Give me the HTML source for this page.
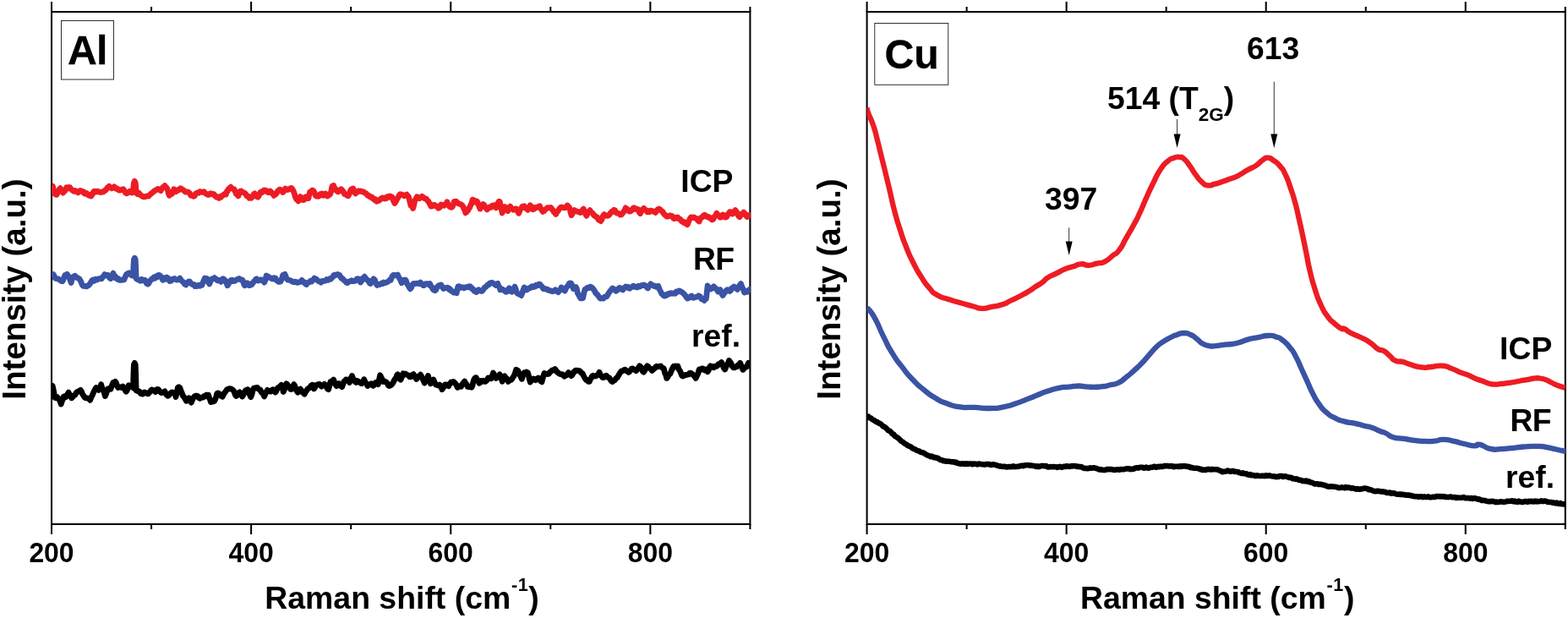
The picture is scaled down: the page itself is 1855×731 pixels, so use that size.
<!DOCTYPE html>
<html lang="en"><head><meta charset="utf-8"><title>Raman spectra</title>
<style>
html,body{margin:0;padding:0;background:#fff;}
body{width:1855px;height:731px;overflow:hidden;}
svg{display:block;}
.t{font-family:"Liberation Sans",Arial,Helvetica,sans-serif;font-weight:700;fill:#000;}
.tick{font-size:31.9px;}
.big{font-size:48.2px;stroke:#000;stroke-width:0.3px;}
.lab{font-size:37.3px;}
.ttl{font-size:37.4px;}
.yttl{font-size:38.55px;}
.sub{font-size:21.5px;}
.sub2{font-size:22.5px;}
</style></head><body>
<svg width="1855" height="731" viewBox="0 0 1855 731">
<defs><clipPath id="cl"><rect x="61.0" y="14.0" width="826.8" height="606.0"/></clipPath><clipPath id="cr"><rect x="1025.6" y="14.0" width="826.6" height="606.0"/></clipPath></defs>
<rect width="1855" height="731" fill="#fff"/>
<rect x="61.0" y="14.0" width="826.4" height="606.0" fill="none" stroke="#000" stroke-width="2.05"/>
<line x1="61.00" y1="14.0" x2="61.00" y2="2.0" stroke="#000" stroke-width="2.05"/>
<line x1="61.00" y1="620.0" x2="61.00" y2="632.0" stroke="#000" stroke-width="2.05"/>
<text transform="translate(61.00,665.3) scale(1,1.03)" text-anchor="middle" class="t tick">200</text>
<line x1="179.06" y1="14.0" x2="179.06" y2="8.0" stroke="#000" stroke-width="2.05"/>
<line x1="179.06" y1="620.0" x2="179.06" y2="626.0" stroke="#000" stroke-width="2.05"/>
<line x1="297.11" y1="14.0" x2="297.11" y2="2.0" stroke="#000" stroke-width="2.05"/>
<line x1="297.11" y1="620.0" x2="297.11" y2="632.0" stroke="#000" stroke-width="2.05"/>
<text transform="translate(297.11,665.3) scale(1,1.03)" text-anchor="middle" class="t tick">400</text>
<line x1="415.17" y1="14.0" x2="415.17" y2="8.0" stroke="#000" stroke-width="2.05"/>
<line x1="415.17" y1="620.0" x2="415.17" y2="626.0" stroke="#000" stroke-width="2.05"/>
<line x1="533.23" y1="14.0" x2="533.23" y2="2.0" stroke="#000" stroke-width="2.05"/>
<line x1="533.23" y1="620.0" x2="533.23" y2="632.0" stroke="#000" stroke-width="2.05"/>
<text transform="translate(533.23,665.3) scale(1,1.03)" text-anchor="middle" class="t tick">600</text>
<line x1="651.29" y1="14.0" x2="651.29" y2="8.0" stroke="#000" stroke-width="2.05"/>
<line x1="651.29" y1="620.0" x2="651.29" y2="626.0" stroke="#000" stroke-width="2.05"/>
<line x1="769.34" y1="14.0" x2="769.34" y2="2.0" stroke="#000" stroke-width="2.05"/>
<line x1="769.34" y1="620.0" x2="769.34" y2="632.0" stroke="#000" stroke-width="2.05"/>
<text transform="translate(769.34,665.3) scale(1,1.03)" text-anchor="middle" class="t tick">800</text>
<line x1="887.40" y1="14.0" x2="887.40" y2="8.0" stroke="#000" stroke-width="2.05"/>
<line x1="887.40" y1="620.0" x2="887.40" y2="626.0" stroke="#000" stroke-width="2.05"/>
<rect x="1025.6" y="14.0" width="826.2" height="606.0" fill="none" stroke="#000" stroke-width="2.05"/>
<line x1="1025.60" y1="14.0" x2="1025.60" y2="2.0" stroke="#000" stroke-width="2.05"/>
<line x1="1025.60" y1="620.0" x2="1025.60" y2="632.0" stroke="#000" stroke-width="2.05"/>
<text transform="translate(1025.60,665.3) scale(1,1.03)" text-anchor="middle" class="t tick">200</text>
<line x1="1143.63" y1="14.0" x2="1143.63" y2="8.0" stroke="#000" stroke-width="2.05"/>
<line x1="1143.63" y1="620.0" x2="1143.63" y2="626.0" stroke="#000" stroke-width="2.05"/>
<line x1="1261.66" y1="14.0" x2="1261.66" y2="2.0" stroke="#000" stroke-width="2.05"/>
<line x1="1261.66" y1="620.0" x2="1261.66" y2="632.0" stroke="#000" stroke-width="2.05"/>
<text transform="translate(1261.66,665.3) scale(1,1.03)" text-anchor="middle" class="t tick">400</text>
<line x1="1379.69" y1="14.0" x2="1379.69" y2="8.0" stroke="#000" stroke-width="2.05"/>
<line x1="1379.69" y1="620.0" x2="1379.69" y2="626.0" stroke="#000" stroke-width="2.05"/>
<line x1="1497.71" y1="14.0" x2="1497.71" y2="2.0" stroke="#000" stroke-width="2.05"/>
<line x1="1497.71" y1="620.0" x2="1497.71" y2="632.0" stroke="#000" stroke-width="2.05"/>
<text transform="translate(1497.71,665.3) scale(1,1.03)" text-anchor="middle" class="t tick">600</text>
<line x1="1615.74" y1="14.0" x2="1615.74" y2="8.0" stroke="#000" stroke-width="2.05"/>
<line x1="1615.74" y1="620.0" x2="1615.74" y2="626.0" stroke="#000" stroke-width="2.05"/>
<line x1="1733.77" y1="14.0" x2="1733.77" y2="2.0" stroke="#000" stroke-width="2.05"/>
<line x1="1733.77" y1="620.0" x2="1733.77" y2="632.0" stroke="#000" stroke-width="2.05"/>
<text transform="translate(1733.77,665.3) scale(1,1.03)" text-anchor="middle" class="t tick">800</text>
<line x1="1851.80" y1="14.0" x2="1851.80" y2="8.0" stroke="#000" stroke-width="2.05"/>
<line x1="1851.80" y1="620.0" x2="1851.80" y2="626.0" stroke="#000" stroke-width="2.05"/>
<polyline points="61.0,456.0 62.1,456.3 63.1,460.7 64.1,466.0 65.1,470.6 66.3,469.6 67.5,469.5 68.6,470.8 69.8,472.4 71.0,474.7 72.2,478.1 73.2,474.8 74.2,472.8 75.2,469.3 76.2,469.6 77.1,468.6 78.1,469.4 79.1,468.3 80.1,465.8 81.1,464.2 82.3,466.5 83.5,467.5 84.7,470.8 85.6,469.9 86.6,468.5 87.6,467.7 88.8,467.3 90.0,464.9 91.2,463.6 92.6,463.3 93.9,462.2 95.3,461.4 96.5,463.2 97.7,466.4 98.9,468.1 100.1,470.0 101.3,470.9 102.4,470.7 103.8,471.0 105.2,471.7 106.6,473.3 108.0,469.8 109.4,467.2 110.8,463.8 111.7,462.2 112.7,460.2 113.7,458.5 114.7,459.6 115.7,460.4 116.7,461.4 117.7,459.2 118.7,457.5 119.7,454.8 120.8,458.9 122.0,461.6 123.2,464.0 124.4,468.5 125.4,466.3 126.4,463.4 127.4,459.9 128.5,460.2 129.7,459.2 130.9,460.2 131.9,457.6 132.9,454.6 133.9,452.3 135.1,452.5 136.3,451.4 137.4,452.7 138.6,456.7 139.8,458.5 141.0,457.7 142.2,457.8 143.4,458.3 144.4,458.8 145.4,457.1 146.3,458.2 147.3,458.9 148.3,462.0 149.3,463.2 150.3,461.6 151.3,459.2 152.3,455.7 153.6,457.5 154.8,457.0 156.1,457.3 157.5,458.8 157.9,444.1 158.4,431.4 159.3,429.4 160.2,431.4 160.7,445.6 161.1,461.8 162.6,462.6 163.8,462.5 165.1,463.2 166.4,465.6 167.7,465.6 168.7,466.1 169.7,465.4 170.7,463.9 171.8,464.3 173.0,464.9 174.2,465.6 175.4,465.8 176.8,464.1 178.2,462.4 179.6,460.9 180.9,461.4 182.3,462.3 183.7,463.6 184.7,461.7 185.7,460.6 186.7,460.3 188.1,461.6 189.4,463.5 190.8,464.7 192.2,464.4 193.6,464.1 195.0,462.9 196.2,465.4 197.3,467.2 198.5,468.3 199.9,467.4 201.3,465.5 202.7,464.2 203.9,463.9 205.1,464.8 206.2,464.8 207.1,466.3 208.0,469.5 209.2,464.3 210.4,458.5 211.6,457.8 212.8,458.6 214.0,462.0 215.1,464.6 216.3,468.0 217.7,469.7 219.1,471.8 220.5,474.2 221.5,472.5 222.5,471.4 223.4,470.8 224.4,471.3 225.4,474.2 226.4,476.1 227.6,473.1 228.8,470.5 230.0,469.0 231.4,468.2 232.7,468.1 234.1,468.7 235.3,470.6 236.5,471.3 237.7,470.6 238.9,469.9 240.1,470.1 241.2,468.7 242.6,469.0 243.9,467.2 245.2,467.1 246.6,467.1 247.6,470.7 248.6,472.8 249.5,475.6 250.9,474.7 252.3,475.1 253.7,474.3 254.7,472.3 255.7,469.4 256.7,465.4 257.8,465.0 259.0,465.5 260.4,466.8 261.8,468.5 263.2,469.2 264.6,466.2 266.0,464.2 267.3,462.5 268.5,460.9 269.7,460.3 270.9,459.7 272.2,459.9 273.5,460.0 274.7,460.8 275.9,461.7 277.1,463.3 278.3,467.1 279.5,468.5 280.9,467.5 282.3,464.8 283.6,463.8 284.6,466.0 285.6,466.4 286.6,469.0 287.8,467.2 289.0,464.7 290.2,462.2 291.2,461.4 292.1,461.1 293.1,460.7 294.3,463.1 295.5,467.1 296.7,469.7 297.9,466.8 299.1,461.5 300.2,459.0 301.6,458.8 303.0,459.1 304.4,458.4 305.6,460.0 306.8,460.6 308.0,461.1 309.1,463.9 310.3,464.5 311.5,466.5 312.7,468.9 313.9,466.2 315.1,463.4 316.3,461.4 317.4,462.0 318.6,462.3 319.8,463.1 320.8,463.1 321.8,461.4 322.8,460.7 323.8,461.3 324.8,462.2 325.8,464.0 326.9,462.6 328.1,459.4 329.3,458.3 330.5,457.9 331.7,456.7 332.9,455.4 334.1,458.2 335.2,463.5 336.4,460.9 337.6,456.2 338.8,453.7 339.8,454.6 340.8,456.3 341.8,457.4 342.8,458.6 343.7,460.4 344.7,460.5 345.7,458.1 346.7,456.3 347.7,454.7 348.9,456.6 350.1,460.8 351.3,462.9 352.4,464.2 353.4,463.2 354.4,461.4 355.4,460.2 356.6,461.6 357.8,463.7 359.0,465.0 360.2,466.2 361.3,463.9 362.5,462.4 363.7,460.3 364.9,459.3 366.1,458.8 367.3,457.2 368.5,455.7 369.6,455.3 370.5,457.5 371.4,459.9 372.4,458.8 373.4,456.4 374.4,455.4 375.6,455.1 376.8,454.5 377.9,454.4 379.1,455.7 380.3,457.1 381.5,455.9 382.7,455.7 383.9,454.4 385.1,455.6 386.3,457.8 387.4,459.8 388.6,460.6 389.8,456.1 391.0,451.4 392.2,451.5 393.4,450.8 394.6,449.0 395.7,452.5 396.9,454.9 398.1,456.6 399.1,455.6 400.1,453.7 401.1,453.6 402.3,455.0 403.5,456.8 404.6,457.7 405.8,454.5 407.0,451.2 408.2,450.5 409.4,448.9 410.6,449.2 411.6,449.1 412.5,450.4 413.5,452.4 414.5,448.8 415.5,446.6 416.5,444.6 417.7,448.1 418.9,449.1 420.1,451.6 421.4,452.4 422.8,450.6 424.2,451.3 425.4,452.1 426.6,453.2 427.8,453.8 428.8,452.1 429.7,451.1 430.7,448.7 432.1,452.1 433.5,453.9 434.9,456.5 435.9,454.7 436.9,455.2 437.9,454.3 439.0,453.8 440.2,455.1 441.4,456.3 442.4,455.7 443.4,453.4 444.4,452.4 445.4,452.8 446.4,454.1 447.3,454.7 448.5,448.9 449.7,443.7 450.9,446.2 452.1,448.6 453.3,451.4 454.5,450.7 455.6,451.5 456.8,452.0 458.0,453.1 459.2,455.6 460.4,456.5 461.8,456.1 463.2,455.0 464.5,453.5 465.5,451.6 466.5,449.7 467.5,448.1 468.5,447.2 469.5,444.1 470.5,442.8 471.7,445.7 472.8,448.0 474.0,449.2 475.0,446.7 476.0,444.8 477.0,441.7 478.4,442.0 479.8,442.2 481.2,443.3 482.3,443.6 483.5,444.3 484.7,445.8 485.8,445.8 486.9,443.7 488.0,443.8 489.2,442.6 490.3,445.4 491.5,446.8 492.7,448.4 493.9,446.7 495.1,445.0 496.3,444.6 497.5,443.2 498.6,445.0 499.8,447.8 501.0,450.1 502.2,453.1 503.6,449.3 505.0,448.2 506.4,444.5 507.3,447.6 508.3,450.4 509.3,453.7 510.5,452.6 511.7,450.7 512.9,449.2 513.9,451.6 514.9,453.9 515.8,455.1 517.2,455.6 518.6,456.1 520.0,455.1 521.0,456.4 522.0,458.2 523.0,460.7 524.1,458.9 525.3,457.5 526.5,454.9 527.9,454.8 529.3,455.5 530.7,456.7 531.7,454.5 532.6,453.8 533.6,452.0 535.0,452.6 536.4,451.5 537.8,452.6 539.0,453.8 540.2,456.0 541.3,458.4 542.7,456.9 544.1,456.5 545.5,457.3 546.9,454.5 548.3,452.7 549.7,451.1 550.8,453.5 552.0,454.4 553.2,457.4 554.4,457.6 555.6,457.8 556.8,457.4 558.0,458.2 558.9,455.9 559.9,451.6 560.9,448.7 562.1,447.0 563.3,446.6 564.5,449.2 565.7,450.0 566.9,453.2 568.0,452.8 569.2,450.4 570.4,450.9 571.6,450.3 572.8,451.3 574.0,451.4 575.2,450.8 576.3,449.3 577.5,447.0 578.7,447.7 579.9,446.8 581.1,447.7 582.3,445.1 583.5,441.1 584.6,443.2 585.8,444.5 587.0,447.4 588.4,445.6 589.8,444.7 591.2,442.9 592.2,445.6 593.1,447.6 594.1,451.2 595.1,449.1 596.1,446.0 597.1,444.9 598.5,447.0 599.9,448.1 601.3,451.4 602.4,449.7 603.6,449.5 604.8,449.4 606.0,447.6 607.2,445.8 608.4,444.0 609.6,440.5 610.7,437.2 611.7,437.7 612.7,438.5 613.7,440.5 614.9,443.4 616.1,445.6 617.3,448.3 618.3,445.4 619.2,442.8 620.2,440.8 621.6,441.7 623.0,440.0 624.4,440.9 625.4,444.2 626.4,449.0 627.3,452.0 628.5,450.5 629.7,449.2 630.9,448.1 631.9,449.0 632.9,448.5 633.9,449.6 634.9,447.9 635.9,447.6 636.8,447.0 638.2,448.1 639.6,450.8 641.0,451.8 642.0,447.6 643.0,444.3 644.0,441.4 645.3,442.2 646.6,442.4 648.0,442.5 649.3,442.2 650.5,440.2 651.7,439.5 652.9,438.2 654.0,438.0 655.2,437.5 656.4,436.5 657.6,437.7 658.8,440.1 660.0,440.5 661.4,441.9 662.7,442.5 664.1,442.6 665.3,442.9 666.5,444.2 667.7,445.2 668.9,444.3 670.1,444.0 671.2,442.3 672.4,440.7 673.6,442.8 674.8,443.3 676.0,444.6 677.2,443.3 678.4,440.2 679.5,440.1 680.7,438.1 682.1,438.1 683.5,438.4 684.9,438.5 686.3,439.1 687.6,441.0 689.0,441.6 690.4,444.5 691.8,447.1 693.2,449.2 694.6,450.0 696.0,451.3 697.3,451.4 698.3,448.3 699.3,447.6 700.3,445.2 701.5,444.3 702.6,444.9 703.8,444.8 704.9,445.0 706.3,443.8 707.7,442.9 709.0,440.3 710.4,443.4 711.8,445.2 713.1,446.6 714.5,446.6 715.9,445.0 717.2,444.2 718.5,445.4 719.7,446.7 720.9,447.1 722.2,449.3 723.4,450.8 724.6,451.5 725.8,450.2 726.9,450.0 728.1,448.6 729.2,447.1 730.4,446.6 731.6,444.1 732.8,442.3 734.1,440.2 735.3,438.8 736.7,438.7 738.0,437.8 739.4,437.1 740.8,438.6 742.1,439.0 743.5,440.4 744.7,439.7 746.0,437.8 747.2,436.1 748.4,435.9 749.8,437.1 751.2,437.4 752.5,438.7 753.9,436.9 755.3,435.2 756.6,432.8 757.9,433.9 759.1,436.2 760.3,439.2 761.6,440.1 762.9,437.9 764.3,434.9 765.7,432.8 766.8,433.6 768.0,435.2 769.1,435.8 770.3,436.7 771.4,438.4 772.8,436.8 774.2,436.1 775.5,434.3 776.8,433.3 778.0,433.8 779.2,433.3 780.4,433.3 781.7,433.0 782.9,434.5 784.1,435.3 785.4,435.9 786.5,441.1 787.6,443.4 788.7,447.4 790.0,445.9 791.4,443.3 792.8,442.2 794.1,439.0 795.5,435.9 796.9,433.4 798.1,434.1 799.3,433.0 800.6,433.8 801.8,433.0 803.0,436.8 804.3,438.4 805.5,441.2 806.7,444.3 807.9,445.0 809.2,444.4 810.4,443.6 811.6,443.3 813.0,443.3 814.4,443.0 815.7,441.4 817.1,441.1 818.5,442.0 819.9,443.3 820.9,444.4 822.0,445.5 823.1,447.4 824.5,444.6 825.9,441.5 827.2,436.9 828.6,437.6 830.0,436.0 831.3,435.8 832.5,437.2 833.6,438.0 834.8,437.1 835.9,438.4 837.1,439.7 838.2,438.3 839.3,434.4 840.4,432.9 841.7,434.3 843.1,433.4 844.5,434.6 845.8,433.5 847.2,433.4 848.6,432.7 849.8,430.6 851.0,430.7 852.3,429.6 853.5,428.5 854.9,431.3 856.2,435.0 857.6,437.0 858.8,434.3 860.1,431.3 861.3,429.7 862.5,426.5 863.8,428.1 865.0,429.9 866.2,433.1 867.5,434.8 868.8,434.8 870.2,433.9 871.6,433.9 872.9,431.8 874.3,431.6 875.7,429.3 876.8,432.2 877.9,435.2 879.0,437.3 880.3,435.3 881.7,434.4 883.1,434.2 884.3,431.7 885.5,429.3 886.4,431.3 887.3,432.2 888.4,432.6" fill="none" stroke="#000" stroke-width="6.8" stroke-linejoin="round" stroke-linecap="butt" clip-path="url(#cl)"/>
<polyline points="61.0,324.4 62.1,324.4 63.1,324.6 64.1,326.2 65.1,328.9 66.5,329.5 67.9,329.8 69.2,329.8 70.4,331.0 71.6,331.8 72.8,332.5 74.0,332.8 75.0,330.4 76.0,327.7 76.9,325.5 78.1,325.6 79.3,324.4 80.5,326.0 81.7,327.8 82.9,330.9 84.1,334.5 85.2,330.4 86.4,327.8 87.6,326.7 88.8,326.3 89.8,328.0 90.8,328.1 91.8,329.0 92.8,329.2 93.8,329.7 94.7,331.3 95.9,333.3 97.1,336.6 98.3,338.3 99.5,338.3 100.7,338.3 102.1,338.9 103.4,338.3 104.8,337.5 106.2,336.1 107.6,333.8 109.0,331.6 110.0,331.1 111.0,332.4 111.9,332.0 113.1,330.4 114.3,331.1 115.5,330.6 116.7,329.7 117.9,329.6 119.1,329.4 120.2,329.7 121.4,327.7 122.6,326.9 123.8,324.6 125.0,325.7 126.2,326.0 127.4,325.3 128.5,326.8 129.7,328.8 130.9,329.5 131.9,327.3 132.9,324.8 133.9,323.2 134.9,325.5 135.9,326.2 136.9,329.1 138.0,328.6 139.2,330.4 140.4,329.8 141.4,331.3 142.4,331.3 143.4,331.3 144.6,331.1 145.7,331.1 146.9,330.7 147.9,328.1 148.9,325.7 149.9,324.1 151.1,324.2 152.3,322.8 153.6,322.8 154.9,325.2 156.2,326.0 157.5,326.2 157.9,315.7 158.4,307.2 159.3,305.2 160.2,307.2 160.7,317.4 161.1,329.5 162.7,330.6 164.0,330.8 165.3,332.0 166.5,332.3 167.7,330.4 168.9,331.1 170.1,332.0 171.3,331.2 172.4,332.5 173.6,335.4 174.8,336.1 176.0,335.1 177.2,332.2 178.4,331.5 179.6,329.9 180.7,329.8 181.9,328.0 183.1,329.1 184.3,327.0 185.5,328.0 186.5,325.9 187.5,325.5 188.5,325.4 189.8,326.4 191.2,328.5 192.6,331.3 193.8,330.2 195.0,328.9 196.2,330.1 197.3,328.1 198.5,328.8 199.7,330.7 200.9,332.5 202.3,332.2 203.7,330.2 205.1,330.1 206.4,329.5 207.8,330.6 209.2,331.1 210.4,330.7 211.6,330.3 212.8,329.1 214.0,331.1 215.1,332.3 216.3,333.3 217.5,334.1 218.7,336.2 219.9,337.0 221.1,334.8 222.3,334.0 223.4,332.9 224.6,333.1 225.8,335.2 227.0,336.2 228.2,336.8 229.4,336.4 230.6,338.5 231.7,337.5 232.9,338.5 234.1,338.1 235.3,337.2 236.5,338.2 237.7,337.2 238.9,337.4 240.1,334.1 241.2,331.6 242.4,329.0 243.6,329.7 244.8,329.5 245.8,332.4 246.8,334.3 247.8,335.9 248.8,333.1 249.7,331.8 250.7,329.9 251.7,329.7 252.7,329.2 253.7,328.6 254.7,329.8 255.7,329.9 256.7,331.4 257.8,332.0 259.0,331.4 260.2,332.0 261.4,333.3 262.6,330.7 263.8,329.7 264.8,330.1 265.8,330.9 266.7,332.4 267.9,334.8 269.1,337.7 270.1,336.3 271.1,334.4 272.1,332.5 273.0,331.6 274.3,331.1 275.7,332.7 277.1,332.5 278.3,332.0 279.5,330.9 280.7,330.5 281.9,330.1 283.0,329.4 284.2,330.5 285.4,331.0 286.6,331.0 287.6,332.7 288.6,336.3 289.6,337.7 290.6,336.8 291.6,336.5 292.5,334.7 293.5,335.2 294.5,337.7 295.5,337.7 296.7,336.0 297.9,336.5 299.1,334.8 300.2,333.1 301.4,332.5 302.6,330.2 303.6,329.8 304.6,331.3 305.6,332.0 307.0,331.7 308.4,330.7 309.7,331.0 310.7,331.2 311.7,332.7 312.7,334.1 313.9,331.2 315.1,326.0 316.3,327.6 317.4,327.1 318.6,328.4 319.8,328.6 321.0,329.2 322.2,330.0 323.2,329.3 324.2,328.6 325.2,328.8 326.1,329.2 327.1,331.6 328.1,331.9 329.3,333.3 330.5,333.4 331.7,333.2 332.7,331.2 333.7,328.6 334.7,325.4 335.8,324.8 337.0,324.3 338.0,326.6 339.0,329.4 340.0,330.7 341.4,331.2 342.8,331.3 344.1,332.1 345.3,332.7 346.5,333.4 347.7,333.7 348.9,333.2 350.1,333.3 351.3,334.2 352.4,334.4 353.6,333.7 354.8,333.4 356.0,333.0 357.2,331.4 358.6,333.5 360.0,333.6 361.3,335.8 362.5,336.5 363.7,334.3 364.9,334.3 366.1,333.6 367.3,332.3 368.5,333.1 369.6,331.9 370.8,330.7 372.0,329.1 373.2,329.7 374.4,330.3 375.6,331.7 377.0,332.7 378.3,333.1 379.7,334.2 381.1,332.5 382.5,332.6 383.9,332.1 385.1,332.0 386.3,330.5 387.4,331.2 388.6,331.3 390.0,329.7 391.4,330.1 392.8,328.4 393.8,327.6 394.8,325.7 395.7,325.1 396.9,325.4 398.1,325.1 399.3,324.4 400.5,325.2 401.7,325.4 402.9,327.7 404.0,329.4 405.2,329.5 406.4,330.9 407.6,332.0 408.8,332.9 410.0,334.4 411.2,334.6 412.3,333.6 413.5,332.6 414.7,332.6 415.9,331.8 417.1,332.7 418.3,332.5 419.5,332.4 420.9,332.0 422.2,329.9 423.6,329.7 424.6,330.7 425.6,332.5 426.6,333.9 427.8,332.1 429.0,329.2 430.1,328.5 431.3,327.2 432.5,329.2 433.7,330.3 434.9,331.8 436.1,331.8 437.3,334.9 438.4,335.5 439.6,333.6 440.8,332.2 442.0,329.8 443.4,331.2 444.8,335.2 446.2,337.4 447.5,336.1 448.8,336.7 450.2,335.9 451.5,334.9 452.7,335.6 453.9,334.1 455.1,334.8 456.2,334.2 457.4,333.9 458.6,333.5 459.8,332.5 461.0,331.1 462.2,331.4 463.4,328.1 464.5,326.1 465.7,325.1 466.9,325.8 468.1,325.4 469.3,325.6 470.5,325.0 471.7,327.8 472.8,329.5 474.0,331.8 475.2,334.7 476.6,332.4 478.0,331.2 479.4,331.0 480.4,332.0 481.3,335.1 482.3,336.8 483.3,338.0 484.3,340.2 485.3,341.8 486.6,340.3 487.9,336.9 489.2,335.3 490.3,335.4 491.5,335.5 492.7,335.2 493.9,335.1 495.1,335.3 496.3,335.6 497.5,334.1 498.4,335.4 499.4,336.2 500.4,337.5 501.6,337.6 502.8,335.8 504.0,335.6 505.2,335.6 506.4,335.9 507.5,336.8 508.7,335.7 509.7,338.5 510.7,339.1 511.7,341.4 512.7,342.7 513.7,343.3 514.7,343.7 515.8,342.7 517.0,339.5 518.2,338.7 519.4,337.6 520.6,337.3 521.8,336.9 522.8,338.8 523.8,340.2 524.7,341.4 526.1,340.7 527.5,340.7 528.9,340.1 530.1,340.5 531.3,342.5 532.4,341.8 533.8,344.2 535.2,344.6 536.6,346.0 537.8,346.0 539.0,345.7 540.2,346.7 541.0,342.2 541.9,338.9 543.1,338.7 544.3,340.1 545.5,340.3 546.7,339.6 547.9,340.1 549.1,340.8 550.2,339.8 551.4,339.9 552.6,339.4 553.8,339.0 555.0,339.7 556.2,338.8 557.4,339.8 558.5,341.7 559.7,342.0 560.9,344.0 562.1,344.7 563.3,345.5 564.3,345.1 565.3,343.1 566.3,342.7 567.4,343.8 568.6,343.6 569.8,344.5 571.0,343.7 572.2,341.8 573.4,340.0 574.6,339.5 575.7,338.5 576.9,336.9 578.1,336.9 579.3,334.9 580.5,334.9 581.7,334.2 583.1,334.9 584.4,336.0 585.8,336.9 586.8,337.5 587.8,335.7 588.8,335.3 589.8,338.4 590.8,339.4 591.8,342.8 593.1,342.0 594.5,342.2 595.9,343.5 597.1,343.7 598.3,345.3 599.5,345.2 600.5,344.0 601.4,342.1 602.4,340.9 603.4,341.8 604.4,344.5 605.4,345.2 606.6,342.9 607.8,341.6 609.0,339.1 610.1,341.9 611.3,345.9 612.5,347.5 613.9,347.8 615.3,348.6 616.7,349.6 617.9,346.5 619.0,342.9 620.2,340.0 621.2,340.6 622.2,341.4 623.2,342.9 624.6,341.7 626.0,340.9 627.3,340.6 628.5,339.0 629.7,338.7 630.9,339.7 632.1,338.5 633.1,338.9 634.1,337.3 635.1,337.9 636.2,337.9 637.4,336.2 638.6,336.2 640.0,337.8 641.4,339.2 642.8,341.6 644.0,341.2 645.1,341.6 646.3,342.2 647.5,342.1 648.7,343.4 649.9,343.4 651.1,343.9 652.3,344.2 653.4,344.8 654.6,344.5 655.8,343.8 657.0,342.7 658.2,343.7 659.4,345.0 660.6,345.6 661.7,343.4 662.9,343.2 664.1,340.0 665.5,342.3 666.9,342.9 668.3,344.0 669.7,340.6 671.0,338.9 672.4,337.3 673.4,335.4 674.4,334.9 675.4,334.9 676.4,336.5 677.4,338.6 678.4,341.6 679.3,339.9 680.3,341.0 681.3,339.6 682.3,341.6 683.3,346.4 684.3,348.4 685.5,350.5 686.7,352.6 687.6,352.0 688.6,352.9 689.6,352.6 690.8,346.9 692.0,342.3 693.2,341.9 694.4,340.6 695.6,340.1 696.9,340.6 698.3,339.1 699.7,339.8 700.9,340.6 702.1,342.1 703.3,344.0 704.1,345.3 704.9,346.9 706.1,347.8 707.2,349.2 708.4,350.8 709.5,352.3 710.7,353.1 711.8,352.9 713.0,352.3 714.1,352.9 715.3,351.2 716.4,351.3 717.8,350.6 719.2,348.4 720.5,346.1 721.9,344.4 723.3,342.4 724.6,341.0 726.0,341.8 727.4,342.7 728.7,344.2 730.1,343.4 731.5,341.7 732.8,340.4 734.2,340.7 735.6,342.3 736.9,342.9 738.0,340.6 739.1,340.4 740.2,339.0 741.5,339.8 742.7,339.2 743.9,341.0 745.1,341.3 746.5,339.8 747.9,339.4 749.3,338.2 750.5,338.7 751.7,339.4 752.9,339.8 754.2,339.8 755.4,338.3 756.6,339.0 757.9,338.5 759.1,337.5 760.5,337.7 761.8,336.9 763.2,337.8 764.3,338.2 765.4,340.2 766.5,340.9 767.6,338.3 768.7,338.0 769.8,335.8 771.1,337.2 772.5,337.5 773.9,338.5 775.1,338.1 776.3,339.3 777.6,339.0 778.8,338.4 780.2,342.4 781.5,344.7 782.9,347.5 784.0,348.3 785.1,349.7 786.2,350.1 787.3,349.9 788.5,348.2 789.6,348.8 790.8,347.4 791.9,347.7 793.1,346.7 794.2,346.9 795.4,347.3 796.5,347.0 797.7,347.2 798.8,347.3 800.0,345.1 801.1,345.5 802.3,344.6 803.4,343.8 804.7,344.3 805.9,345.2 807.1,345.8 808.4,347.0 809.6,348.1 810.8,349.5 812.1,351.6 813.3,353.0 814.5,352.5 815.7,352.0 817.0,350.7 818.2,350.0 819.3,351.2 820.4,352.3 821.5,351.9 822.7,351.7 824.0,351.2 825.2,351.0 826.4,349.8 827.6,350.3 828.7,351.3 829.9,353.7 831.0,353.7 832.2,354.8 833.3,355.4 834.4,353.5 835.4,353.3 836.3,345.5 837.1,338.0 838.5,339.9 839.8,340.4 841.2,341.8 842.3,340.8 843.4,340.8 844.5,338.7 845.7,340.7 846.9,341.2 848.2,342.7 849.4,344.9 850.6,343.6 851.9,342.6 853.0,345.3 854.1,348.1 855.1,349.5 856.5,347.2 857.9,345.7 859.3,343.4 860.6,342.6 862.0,343.3 863.4,344.5 864.6,343.5 865.8,340.7 867.1,340.3 868.3,339.0 869.7,340.0 871.0,341.4 872.4,342.3 873.8,339.6 875.1,337.5 876.5,335.5 877.9,339.6 879.2,341.9 880.6,346.0 881.7,345.4 882.8,345.1 883.9,345.4 885.0,343.8 886.2,343.1 887.3,342.1 888.4,342.0" fill="none" stroke="#3a53a4" stroke-width="6.8" stroke-linejoin="round" stroke-linecap="butt" clip-path="url(#cl)"/>
<polyline points="61.0,219.6 62.4,220.3 63.7,225.4 65.1,229.6 66.0,230.1 66.9,230.4 68.0,228.6 69.2,226.7 70.4,223.6 71.3,222.7 72.2,223.7 73.4,225.5 74.6,228.1 75.8,225.9 76.9,225.8 77.8,224.3 78.7,221.7 79.7,222.8 80.7,222.8 81.7,221.5 82.7,221.7 83.7,223.4 84.7,224.4 85.8,225.0 87.0,226.2 88.0,226.3 89.0,225.5 90.0,226.2 91.2,227.0 92.4,227.8 93.6,226.2 94.7,225.5 95.7,225.6 96.7,226.5 97.7,226.8 98.7,226.7 99.7,229.0 100.7,229.0 101.7,229.4 102.6,228.7 103.6,230.1 105.0,231.2 106.4,230.5 107.8,232.0 108.8,230.7 109.8,228.7 110.8,226.7 111.9,226.1 113.1,227.0 114.3,226.5 115.5,226.1 116.7,226.9 117.9,227.2 119.1,227.6 120.2,227.0 121.4,227.2 122.6,226.6 123.8,225.3 125.0,225.2 126.2,223.3 127.2,221.7 128.2,221.4 129.1,220.4 130.1,221.4 131.1,221.7 132.1,222.8 133.1,222.2 134.1,222.1 135.1,220.9 136.1,221.7 137.0,223.0 138.0,223.6 139.2,223.4 140.4,224.9 141.6,225.2 143.0,224.7 144.4,224.0 145.7,223.7 147.1,225.5 148.5,228.0 149.9,228.8 151.1,227.9 152.3,227.8 153.5,226.2 154.8,226.8 156.1,228.0 157.5,227.3 157.9,220.8 158.4,216.3 159.3,214.3 160.2,216.3 160.7,221.4 161.1,228.4 162.7,229.6 164.0,228.0 165.3,229.6 166.5,230.8 167.7,231.8 168.9,232.3 170.1,232.9 171.3,232.5 172.4,232.5 173.6,232.1 174.8,231.6 176.0,232.0 177.2,230.5 178.4,229.2 179.6,228.6 180.7,227.6 181.9,226.4 183.1,225.6 184.3,225.0 185.5,224.3 186.7,223.4 187.9,224.0 189.0,224.1 190.2,225.6 191.4,223.0 192.6,221.5 193.8,221.1 195.0,219.7 196.2,221.3 197.3,222.3 198.3,224.6 199.3,228.8 200.3,231.3 201.3,229.9 202.3,229.3 203.3,229.4 204.5,227.4 205.7,223.7 206.8,224.5 208.0,226.7 209.2,225.9 210.4,225.4 211.4,224.2 212.4,224.1 213.4,222.8 214.4,223.1 215.3,224.4 216.3,224.4 217.5,225.1 218.7,226.5 219.9,227.2 221.1,227.1 222.3,226.9 223.4,227.7 224.6,228.8 225.8,231.3 226.8,231.3 227.8,231.1 228.8,232.2 230.2,231.7 231.6,229.0 232.9,228.3 234.1,227.6 235.3,228.2 236.5,226.6 237.7,227.0 238.9,227.3 240.1,227.2 241.2,226.7 242.4,227.9 243.6,229.1 244.8,229.6 246.0,230.4 247.2,230.3 248.4,229.1 249.5,228.8 250.7,229.0 251.9,230.2 253.1,229.7 254.3,231.1 255.5,232.9 256.7,233.4 257.8,233.0 259.0,234.4 260.2,232.8 261.4,233.2 262.6,231.8 263.8,230.9 265.0,230.1 266.2,229.1 267.3,230.0 268.3,226.5 269.3,225.9 270.3,223.6 271.6,222.5 273.0,221.2 273.3,221.6 274.6,223.0 275.8,223.4 277.1,223.8 278.3,226.5 279.5,229.5 280.7,230.1 281.9,231.8 283.0,228.9 284.2,226.1 285.4,226.0 286.6,227.4 287.8,227.3 288.8,228.1 289.8,228.4 290.8,229.8 292.1,231.9 293.5,231.9 294.9,234.3 296.1,233.6 297.3,234.2 298.5,232.9 299.5,231.0 300.4,229.5 301.4,228.9 302.6,230.9 303.8,232.7 305.0,233.2 306.0,232.1 307.0,229.8 308.0,227.5 308.9,228.2 309.9,226.5 310.9,227.1 311.9,225.4 312.9,224.9 313.9,225.4 315.1,225.3 316.3,227.2 317.4,227.7 318.6,227.7 319.8,226.2 321.2,227.6 322.6,229.0 324.0,231.4 325.2,230.1 326.3,229.7 327.5,228.1 328.5,225.9 329.5,225.7 330.5,224.1 331.9,224.4 333.3,225.4 334.7,227.5 335.6,226.4 336.6,225.1 337.6,223.0 338.8,223.8 340.0,224.5 341.2,224.2 342.4,224.0 343.5,222.8 344.7,222.4 345.9,223.7 347.1,225.9 348.3,229.1 349.5,233.2 350.7,235.8 351.9,236.3 353.0,238.0 354.2,236.0 355.4,232.6 356.4,234.7 357.4,234.9 358.4,236.7 359.6,236.5 360.7,233.4 361.9,232.7 362.9,234.6 363.9,234.2 364.9,234.6 365.8,230.4 366.7,226.9 368.1,227.0 369.4,225.1 370.8,225.7 372.0,227.7 373.2,231.1 374.4,232.1 375.6,231.5 376.8,232.3 377.8,231.5 378.7,229.7 379.7,229.6 380.7,229.0 381.7,229.4 382.7,231.3 383.9,229.5 385.1,229.0 386.3,230.5 387.4,232.0 388.6,230.1 389.8,230.5 391.0,228.8 391.9,225.7 392.8,220.8 393.7,219.7 394.6,219.4 395.5,222.0 396.5,222.8 397.5,224.7 398.7,226.1 399.9,226.9 401.1,226.1 402.3,224.6 403.5,223.7 404.8,224.8 406.2,226.9 407.6,229.6 409.0,229.8 410.4,231.1 411.8,231.8 412.9,230.1 414.1,226.6 415.3,224.3 416.5,223.4 417.7,222.9 418.7,225.7 419.7,227.8 420.7,228.8 421.8,227.5 423.0,226.9 424.2,225.8 425.4,226.3 426.6,226.0 427.8,226.5 429.0,226.8 430.1,226.9 431.3,228.2 432.5,228.3 433.7,229.3 434.9,231.3 436.1,231.2 437.3,232.6 438.4,232.4 439.6,234.1 440.8,233.8 442.0,235.5 443.2,236.7 444.4,235.9 445.6,238.3 446.7,237.7 447.9,237.5 449.1,236.8 450.3,235.1 451.5,234.4 452.7,233.9 453.9,234.7 455.1,235.1 456.2,233.8 457.4,234.5 458.6,232.5 459.8,233.2 461.2,231.9 462.6,232.5 464.0,233.3 464.9,235.9 465.9,238.5 466.9,240.4 467.9,239.0 468.9,237.4 469.9,235.2 471.1,233.4 472.3,230.8 473.4,229.7 474.6,230.4 475.8,230.2 477.0,230.9 478.4,231.8 479.8,231.1 481.2,230.1 482.3,231.4 483.5,233.0 484.7,237.8 485.9,243.0 486.2,240.9 487.4,243.5 488.6,246.4 489.7,242.3 490.9,237.0 492.1,235.3 493.3,232.7 494.3,233.5 495.3,233.6 496.3,234.6 497.3,233.6 498.2,233.9 499.2,232.2 500.4,233.0 501.6,234.4 502.8,234.8 504.2,235.1 505.6,237.2 506.9,238.2 507.9,240.4 508.9,241.9 509.9,244.1 511.3,243.9 512.7,242.4 514.1,242.4 515.2,243.4 516.4,243.8 517.6,245.1 518.8,246.3 519.8,245.8 520.8,244.4 521.8,242.1 523.0,243.0 524.1,242.3 525.3,243.2 526.5,242.2 527.7,241.4 528.9,238.8 530.1,241.6 531.3,243.8 532.4,244.8 533.4,245.2 534.4,245.3 535.4,244.2 536.3,241.8 537.2,238.6 538.4,238.3 539.6,238.1 540.8,239.5 541.9,240.6 543.1,240.8 544.3,241.3 545.5,242.0 546.7,242.8 547.9,244.3 548.9,247.2 549.8,248.2 550.8,251.7 551.8,251.1 552.8,249.4 553.8,248.9 554.8,246.2 555.8,245.4 556.8,242.5 558.0,240.3 559.1,236.1 560.1,236.9 561.1,237.0 562.1,238.8 563.1,239.5 564.1,238.1 565.1,239.4 566.1,242.4 567.0,244.6 568.0,247.1 569.2,244.9 570.4,243.9 571.6,241.5 572.8,242.6 574.0,245.2 575.2,246.2 576.3,247.8 577.5,246.7 578.7,245.2 579.9,245.3 581.1,245.3 582.3,243.1 583.5,243.5 584.6,242.7 585.8,243.7 587.0,245.8 588.2,242.2 589.4,239.7 590.3,238.2 591.2,238.6 592.2,243.1 593.1,246.6 594.1,252.0 595.1,249.7 596.1,247.8 597.1,244.4 598.3,246.0 599.5,248.2 600.7,249.6 601.6,248.0 602.6,245.4 603.6,244.1 604.8,245.8 606.0,247.1 607.2,248.2 608.4,247.4 609.6,246.9 610.7,246.8 611.7,249.0 612.7,250.5 613.7,252.3 614.7,249.8 615.7,247.3 616.7,246.2 617.9,244.4 619.0,245.0 620.2,243.9 621.6,246.1 623.0,247.0 624.4,248.3 625.4,245.4 626.4,244.4 627.3,242.7 628.3,244.0 629.3,246.1 630.3,247.7 631.7,247.3 633.1,245.5 634.5,245.8 635.9,245.1 637.2,244.2 638.6,243.8 639.8,246.7 641.0,248.6 642.2,250.4 643.6,249.6 644.9,247.9 646.3,246.8 647.7,245.6 649.0,245.7 650.3,245.8 651.7,245.5 652.9,247.4 654.0,248.3 655.2,250.8 656.4,251.4 657.6,253.4 659.0,250.7 660.4,249.2 661.7,247.0 662.9,245.7 664.1,244.9 665.3,245.3 666.3,245.6 667.3,245.7 668.3,245.9 669.3,245.1 670.3,244.1 671.2,243.0 672.4,244.8 673.6,245.2 674.8,250.1 676.0,254.6 677.2,252.7 678.4,250.3 679.5,248.6 680.7,249.2 681.9,249.8 683.1,250.3 684.3,250.4 685.5,251.2 686.7,251.5 687.8,250.7 689.0,248.9 690.2,247.1 691.4,250.1 692.6,253.0 693.8,255.2 695.2,252.6 696.5,250.2 697.9,248.7 699.1,250.7 700.3,251.6 701.5,252.6 702.6,254.8 703.8,255.2 704.9,256.3 706.1,256.5 707.2,258.5 708.4,260.1 709.5,260.5 710.7,261.6 712.0,259.4 713.4,255.4 714.8,253.6 716.1,255.1 717.5,255.2 718.9,255.4 720.1,254.7 721.3,253.4 722.6,251.4 723.8,250.2 725.0,250.4 726.3,248.3 727.6,248.9 729.0,251.6 730.4,252.2 731.6,252.4 732.8,253.2 734.1,254.1 735.3,253.8 736.5,252.4 737.8,250.5 739.0,248.7 740.2,245.8 741.5,247.4 742.7,247.8 743.9,249.6 745.1,250.2 746.5,249.6 747.9,248.3 749.3,245.9 750.5,245.8 751.7,247.5 752.9,247.2 754.2,247.4 755.3,247.9 756.4,251.4 757.5,252.5 758.8,249.9 760.2,248.1 761.6,246.3 762.9,248.2 764.3,248.5 765.7,250.7 766.9,249.5 768.1,250.6 769.4,249.1 770.6,249.1 771.8,249.9 773.1,250.3 774.3,250.2 775.5,251.4 776.9,249.1 778.3,247.6 779.6,247.0 781.0,247.7 782.4,249.6 783.7,250.1 785.0,252.3 786.2,253.8 787.4,254.5 788.7,256.0 789.9,256.0 791.1,255.9 792.4,254.8 793.6,255.1 794.8,255.3 796.0,257.3 797.3,258.7 798.5,258.5 799.6,257.2 800.7,257.9 801.8,257.1 802.9,258.8 804.1,259.2 805.2,259.7 806.4,261.8 807.5,261.8 808.7,263.3 809.8,262.8 811.0,264.1 812.1,265.0 813.3,265.6 814.7,262.1 816.0,259.2 817.4,257.0 818.6,256.9 819.9,257.4 821.1,256.9 822.3,258.0 823.5,258.3 824.8,259.7 826.0,261.3 827.2,261.9 828.5,258.3 829.7,257.2 831.1,256.8 832.4,254.8 833.8,254.2 835.0,255.1 836.3,256.5 837.5,256.1 838.7,257.4 840.0,258.2 841.2,257.7 842.4,259.9 843.7,259.3 845.0,256.7 846.4,255.3 847.8,252.2 849.1,253.9 850.5,254.9 851.9,257.1 853.0,257.0 854.1,256.2 855.1,254.0 856.5,254.6 857.9,257.1 859.3,256.9 860.6,254.8 862.0,252.4 863.4,250.6 864.5,250.7 865.5,252.5 866.6,253.1 867.7,251.7 868.8,250.6 869.9,248.5 871.2,250.2 872.4,252.7 873.6,255.4 874.9,256.7 876.1,254.6 877.3,252.9 878.5,253.3 879.8,251.2 881.1,252.6 882.5,254.9 883.9,256.5 885.0,255.9 886.2,254.3 887.3,254.4 888.4,254.5" fill="none" stroke="#ed1c24" stroke-width="6.8" stroke-linejoin="round" stroke-linecap="butt" clip-path="url(#cl)"/>
<polyline points="1025.6,492.0 1027.1,492.6 1028.6,494.2 1030.1,494.4 1031.6,495.9 1033.1,496.7 1034.6,497.5 1036.1,498.7 1037.6,499.0 1039.1,500.4 1040.6,500.8 1042.1,501.7 1043.6,503.1 1045.1,504.6 1046.6,504.9 1048.1,506.2 1049.6,507.8 1051.1,509.3 1052.6,509.9 1054.1,511.1 1055.6,513.2 1057.1,513.4 1058.6,515.8 1060.1,516.6 1061.6,517.5 1063.1,518.6 1064.7,520.1 1066.2,521.9 1067.7,522.5 1069.2,523.8 1070.7,524.9 1072.2,525.7 1073.7,526.9 1075.2,527.6 1076.7,528.1 1078.2,529.1 1079.7,530.4 1081.2,530.9 1082.7,531.5 1084.2,532.6 1085.7,533.1 1087.2,533.5 1088.8,534.7 1090.3,535.2 1091.8,535.3 1093.3,536.2 1094.8,537.0 1096.3,538.2 1097.8,538.7 1099.3,539.1 1100.8,540.2 1102.3,539.6 1103.8,540.5 1105.3,541.3 1106.8,541.0 1108.3,541.9 1109.8,541.9 1111.3,543.2 1112.8,543.9 1114.3,544.2 1115.8,545.1 1117.3,545.1 1118.8,545.6 1120.3,545.6 1121.8,545.7 1123.4,545.7 1124.9,546.3 1126.4,546.3 1127.9,546.4 1129.4,547.0 1130.9,546.6 1132.4,547.8 1133.9,548.1 1135.4,548.6 1136.9,548.8 1138.4,548.3 1139.9,548.5 1141.4,549.0 1142.9,548.3 1144.4,549.0 1145.9,548.6 1147.4,548.5 1149.0,548.5 1150.5,549.3 1152.0,548.6 1153.5,548.8 1155.0,548.9 1156.5,549.4 1158.0,548.5 1159.5,548.9 1161.0,549.1 1162.5,549.2 1164.0,549.4 1165.5,549.6 1167.0,548.9 1168.5,549.1 1170.0,549.1 1171.5,549.8 1173.0,550.0 1174.5,549.3 1176.0,549.5 1177.5,549.9 1179.0,550.3 1180.6,550.9 1182.1,551.4 1183.6,551.4 1185.1,551.7 1186.6,551.9 1188.1,551.8 1189.6,552.1 1191.1,552.5 1192.6,552.2 1194.1,552.0 1195.6,552.1 1197.1,552.1 1198.6,551.3 1200.1,552.2 1201.6,552.0 1203.1,552.0 1204.6,551.8 1206.1,551.3 1207.6,551.2 1209.1,550.7 1210.6,551.2 1212.2,550.4 1213.7,550.2 1215.2,550.3 1216.7,550.3 1218.2,550.6 1219.7,550.5 1221.2,550.7 1222.7,551.1 1224.2,551.3 1225.7,551.9 1227.2,551.3 1228.7,552.2 1230.2,551.7 1231.8,551.0 1233.3,551.0 1234.8,551.1 1236.2,551.2 1237.6,551.1 1239.0,552.2 1240.5,552.5 1241.9,552.1 1243.3,552.3 1244.7,552.3 1246.3,552.0 1247.9,552.3 1249.5,552.2 1251.0,552.9 1252.6,552.1 1254.2,551.9 1255.8,552.8 1257.4,552.3 1259.0,551.7 1260.6,552.0 1262.1,551.2 1263.7,551.6 1265.3,552.0 1266.9,551.4 1268.3,551.5 1269.7,551.1 1271.1,551.3 1272.5,551.2 1273.9,552.0 1275.3,551.8 1276.7,552.1 1278.2,552.1 1279.7,552.3 1281.1,553.4 1282.6,553.9 1284.1,553.9 1285.5,554.1 1286.9,554.1 1288.3,554.0 1289.7,553.4 1291.1,553.7 1292.5,553.5 1293.9,553.4 1295.4,553.5 1296.9,554.1 1298.3,554.4 1299.8,555.2 1301.3,555.6 1302.8,555.3 1304.4,555.9 1305.9,556.0 1307.4,555.9 1309.0,555.3 1310.5,555.1 1312.1,555.1 1313.6,555.3 1315.1,555.1 1316.7,555.6 1318.2,555.9 1319.8,555.8 1321.3,555.4 1322.8,555.5 1324.4,555.7 1325.9,555.1 1327.5,555.2 1329.0,555.3 1330.5,554.9 1332.1,554.5 1333.6,554.4 1335.2,554.2 1336.8,555.1 1338.3,554.8 1339.8,554.9 1341.2,554.7 1342.7,553.7 1344.1,553.3 1345.6,553.4 1347.1,553.4 1348.6,552.7 1350.0,552.7 1351.5,552.7 1353.0,553.6 1354.5,553.5 1356.0,552.7 1357.4,553.5 1358.9,553.7 1360.4,553.2 1361.8,552.7 1363.2,552.8 1364.6,552.1 1366.1,551.8 1367.5,552.8 1368.9,552.3 1370.3,551.9 1371.7,552.3 1373.1,551.6 1374.5,552.0 1375.9,551.9 1377.3,551.1 1378.7,551.0 1380.1,551.1 1381.5,551.0 1382.9,551.5 1384.3,551.2 1385.8,551.5 1387.2,551.3 1388.6,552.3 1390.0,551.8 1391.4,551.7 1392.8,551.8 1394.2,552.1 1395.6,551.4 1397.0,551.9 1398.4,551.3 1399.8,551.2 1401.2,551.5 1402.6,551.2 1404.0,551.9 1405.5,551.9 1406.9,552.0 1408.3,553.2 1409.7,552.9 1411.1,553.3 1412.6,553.8 1414.0,553.8 1415.4,553.7 1416.9,554.1 1418.3,554.3 1419.5,555.1 1420.8,554.8 1422.0,555.8 1423.2,556.0 1424.8,555.6 1426.3,555.9 1427.9,555.2 1429.4,554.9 1430.9,555.3 1432.4,555.5 1433.9,555.0 1435.4,555.3 1436.9,555.2 1438.4,555.3 1439.9,555.4 1441.5,555.9 1443.0,556.6 1444.5,557.2 1446.1,558.2 1447.6,557.8 1449.2,557.8 1450.7,557.5 1452.2,556.6 1453.6,557.0 1455.0,557.7 1456.4,557.8 1457.9,557.1 1459.3,557.3 1460.7,557.9 1462.1,557.9 1463.5,558.1 1464.9,558.2 1466.3,559.2 1467.7,559.6 1469.1,560.0 1470.5,559.3 1471.9,560.1 1473.3,560.5 1474.7,560.2 1476.1,561.4 1477.6,561.8 1479.0,561.2 1480.4,562.3 1481.8,562.0 1483.2,562.2 1484.6,563.0 1486.0,562.9 1487.4,562.3 1488.8,562.7 1490.2,563.0 1491.6,563.0 1493.0,562.7 1494.4,562.8 1495.8,563.2 1497.3,562.3 1498.7,562.9 1500.1,562.7 1501.5,562.4 1503.0,562.7 1504.5,563.3 1506.1,563.5 1507.6,563.4 1509.1,564.2 1510.7,563.8 1512.2,564.0 1513.8,563.1 1515.2,563.1 1516.6,563.0 1518.0,564.0 1519.4,563.5 1520.8,563.4 1522.2,563.9 1523.6,564.3 1525.1,564.9 1526.6,564.7 1528.0,564.9 1529.5,566.3 1531.0,566.2 1532.4,566.8 1533.9,566.4 1535.3,566.8 1536.7,567.9 1538.2,567.9 1539.6,568.1 1541.0,569.1 1542.5,568.9 1543.9,569.3 1545.4,568.6 1546.8,569.7 1548.3,569.2 1549.8,570.5 1551.2,570.6 1552.7,571.0 1554.1,571.8 1555.6,572.6 1557.0,572.2 1558.5,572.3 1559.9,573.0 1561.4,572.9 1562.8,572.9 1564.3,573.4 1565.8,573.5 1567.3,574.1 1568.9,574.7 1570.4,575.3 1572.0,575.8 1573.5,575.2 1575.0,575.6 1576.6,575.4 1578.1,575.7 1579.7,575.7 1581.2,576.3 1582.7,576.6 1584.2,577.1 1585.8,576.9 1587.3,576.4 1588.8,576.7 1590.4,577.2 1591.9,576.2 1593.5,577.0 1595.0,576.6 1596.5,576.8 1598.1,577.5 1599.7,577.2 1601.2,577.6 1602.8,578.0 1604.3,578.6 1605.9,578.1 1607.4,578.7 1608.8,578.6 1610.3,578.5 1611.7,578.1 1613.1,577.9 1614.6,577.5 1616.0,577.7 1617.5,577.9 1619.0,579.1 1620.4,579.0 1621.9,579.4 1623.4,580.1 1625.0,580.9 1626.5,581.1 1628.1,581.1 1629.7,580.8 1631.3,580.9 1632.8,581.2 1634.4,581.6 1635.8,581.4 1637.2,581.9 1638.6,581.8 1640.1,582.8 1641.5,583.0 1642.9,582.7 1644.3,582.6 1645.6,583.6 1647.0,583.1 1648.3,583.5 1649.6,583.3 1651.0,584.1 1652.3,584.5 1653.8,584.7 1655.4,584.5 1656.9,585.0 1658.4,584.6 1660.0,585.1 1661.5,585.1 1663.1,585.6 1664.6,585.6 1666.1,585.5 1667.7,586.0 1669.2,586.1 1670.8,586.7 1672.3,586.8 1673.8,587.3 1675.4,587.3 1676.9,587.4 1678.5,587.8 1680.1,587.3 1681.7,587.3 1683.3,588.2 1684.9,587.3 1686.5,588.0 1688.1,588.0 1689.7,587.4 1691.3,588.2 1692.9,588.3 1694.5,587.9 1696.1,587.9 1697.7,587.9 1699.2,587.0 1700.8,587.3 1702.4,587.1 1704.0,587.4 1705.6,587.1 1707.1,587.5 1708.7,587.4 1710.2,587.9 1711.8,587.9 1713.3,588.1 1714.9,587.7 1716.5,587.6 1718.0,588.2 1719.5,588.3 1721.1,588.0 1722.6,588.9 1724.2,588.6 1725.7,588.7 1727.2,588.7 1728.8,588.8 1730.3,588.6 1731.8,588.1 1733.3,589.2 1734.8,589.3 1736.3,589.1 1737.8,589.3 1739.2,589.6 1740.7,589.0 1742.2,589.9 1743.7,589.4 1745.2,589.4 1746.7,589.9 1748.2,590.6 1749.8,590.3 1751.3,591.3 1752.8,591.9 1754.4,591.7 1755.9,591.9 1757.5,592.3 1759.0,592.8 1760.4,593.2 1761.9,593.1 1763.3,593.3 1764.8,592.8 1766.2,593.0 1767.6,593.2 1769.1,594.0 1770.5,593.6 1772.0,594.0 1773.4,593.8 1775.0,593.4 1776.6,593.5 1778.2,593.8 1779.8,593.7 1781.3,593.5 1782.9,592.9 1784.5,593.0 1786.1,592.8 1787.7,592.7 1789.2,592.3 1790.8,593.4 1792.3,592.6 1793.8,593.7 1795.4,593.7 1796.9,592.7 1798.5,593.4 1800.0,593.7 1801.4,594.0 1802.9,593.4 1804.3,593.1 1805.8,593.0 1807.2,593.8 1808.6,592.9 1810.1,593.3 1811.5,592.8 1813.0,593.2 1814.4,593.4 1815.9,592.6 1817.3,593.4 1818.8,592.9 1820.2,593.3 1821.7,593.1 1823.1,592.4 1824.6,592.9 1826.1,592.9 1827.7,592.6 1829.2,592.9 1830.8,593.7 1832.3,593.9 1833.8,594.0 1835.4,594.0 1836.9,594.6 1838.4,594.6 1840.0,595.4 1841.5,594.6 1843.1,595.6 1844.6,595.9 1846.1,595.1 1847.7,596.3 1849.2,596.2 1850.8,596.5 1852.3,596.1" fill="none" stroke="#000" stroke-width="6.6" stroke-linejoin="round" stroke-linecap="butt" clip-path="url(#cr)"/>
<path d="M1025.6,363.7C1028.7,367.8 1028.3,364.6 1034.8,376.1C1041.3,387.6 1038.2,384.3 1045.2,398.2C1052.2,412.1 1048.3,405.9 1055.7,417.9C1063.1,429.9 1059.2,423.7 1067.3,434.2C1075.4,444.7 1071.6,440.4 1080.1,449.3C1088.6,458.2 1084.0,453.8 1092.9,461.0C1101.8,468.2 1097.6,465.5 1106.9,471.0C1116.2,476.5 1111.1,474.0 1120.8,477.5C1130.5,481.0 1125.4,479.9 1135.9,481.4C1146.4,482.9 1140.6,481.4 1152.2,481.9C1163.8,482.4 1159.2,483.2 1170.8,483.0C1182.4,482.8 1177.0,483.3 1187.1,481.4C1197.2,479.5 1190.9,480.7 1201.0,477.4C1211.1,474.1 1208.3,474.9 1217.3,471.4C1226.3,467.9 1220.8,469.9 1228.0,467.0C1235.2,464.1 1230.7,465.5 1239.0,462.8C1247.3,460.1 1244.4,460.5 1252.9,458.8C1261.4,457.1 1256.7,458.5 1264.5,457.7C1272.3,456.9 1268.4,456.5 1276.2,456.5C1284.0,456.5 1278.5,457.5 1287.8,457.7C1297.1,457.9 1295.6,458.0 1304.1,457.2C1312.6,456.4 1307.2,456.7 1313.4,455.3C1319.6,453.9 1316.5,455.9 1322.7,453.0C1328.9,450.1 1325.8,451.3 1332.0,446.5C1338.2,441.7 1335.1,444.2 1341.3,438.6C1347.5,433.0 1344.4,436.2 1350.6,429.8C1356.8,423.4 1353.7,426.1 1359.9,419.3C1366.1,412.5 1363.8,414.3 1369.2,409.3C1374.6,404.3 1370.8,407.7 1376.2,404.2C1381.6,400.7 1380.1,401.5 1385.5,398.8C1390.9,396.1 1387.4,397.6 1392.4,396.0C1397.4,394.4 1395.2,394.0 1400.6,394.0C1406.0,394.0 1403.7,393.8 1408.7,396.0C1413.7,398.2 1411.0,397.2 1415.7,400.7C1420.4,404.2 1418.0,403.8 1422.7,406.5C1427.4,409.2 1425.1,407.9 1429.7,408.8C1434.3,409.7 1430.2,409.7 1436.6,409.3C1443.0,408.9 1440.2,408.8 1449.0,407.7C1457.8,406.6 1453.6,408.1 1462.9,406.0C1472.2,403.9 1468.4,403.7 1476.9,401.4C1485.4,399.1 1480.8,400.6 1488.5,399.1C1496.2,397.6 1493.1,397.2 1500.1,397.0C1507.1,396.8 1503.6,396.5 1509.4,398.4C1515.2,400.3 1512.2,398.5 1517.6,402.6C1523.0,406.7 1520.7,404.5 1525.7,410.7C1530.7,416.9 1528.0,412.7 1532.7,421.2C1537.4,429.7 1535.1,426.2 1539.7,436.3C1544.3,446.4 1542.0,441.3 1546.6,451.4C1551.2,461.5 1548.9,457.6 1553.6,466.5C1558.3,475.4 1555.6,471.1 1560.6,478.1C1565.6,485.1 1562.5,482.0 1568.7,487.4C1574.9,492.8 1571.8,490.7 1579.2,494.4C1586.6,498.1 1583.1,496.5 1590.8,498.6C1598.5,500.7 1594.6,499.0 1602.4,500.7C1610.2,502.4 1607.1,501.9 1614.1,503.7C1621.1,505.5 1617.2,503.9 1623.4,506.0C1629.6,508.1 1627.3,507.8 1632.7,510.0C1638.1,512.2 1634.5,510.1 1639.7,512.5C1644.9,514.9 1641.3,515.1 1648.2,517.2C1655.1,519.3 1652.3,517.6 1660.5,518.8C1668.7,520.0 1664.6,519.9 1672.8,520.9C1681.0,521.9 1676.9,521.6 1685.1,521.9C1693.3,522.2 1689.9,522.4 1697.4,521.7C1704.9,521.0 1700.2,519.8 1707.7,519.9C1715.2,520.0 1711.8,520.2 1720.0,521.9C1728.2,523.6 1724.1,523.2 1732.3,525.0C1740.5,526.8 1738.4,527.1 1744.6,527.4C1750.8,527.7 1744.6,524.6 1750.8,525.8C1757.0,527.0 1754.9,529.1 1763.1,530.9C1771.3,532.7 1767.2,531.4 1775.4,531.1C1783.6,530.8 1778.8,531.0 1787.7,530.1C1796.6,529.2 1792.5,529.2 1802.1,528.5C1811.7,527.8 1807.5,527.8 1816.4,527.9C1825.3,528.0 1820.5,527.7 1828.7,528.9C1836.9,530.1 1833.1,529.8 1841.0,531.5C1848.9,533.2 1848.5,533.2 1852.3,534.0" fill="none" stroke="#3a53a4" stroke-width="6.3" stroke-linejoin="round" stroke-linecap="butt" clip-path="url(#cr)"/>
<path d="M1025.6,127.5C1026.3,130.0 1025.1,128.0 1027.6,134.9C1030.1,141.8 1029.5,137.6 1033.1,148.3C1036.7,159.0 1035.0,154.2 1038.3,167.0C1041.6,179.8 1039.9,173.8 1043.1,186.6C1046.3,199.4 1044.7,192.7 1047.8,205.5C1050.9,218.3 1049.1,210.6 1052.5,224.9C1055.9,239.2 1054.0,233.1 1058.0,248.5C1062.0,263.9 1060.0,256.7 1064.6,271.0C1069.2,285.3 1066.7,278.5 1071.8,291.5C1076.9,304.5 1074.2,298.4 1080.0,310.0C1085.8,321.6 1082.7,316.1 1089.2,326.4C1095.7,336.7 1093.0,333.3 1099.5,340.8C1106.0,348.3 1101.2,344.6 1108.7,349.0C1116.2,353.4 1112.9,351.0 1122.1,354.1C1131.3,357.2 1126.8,355.5 1136.4,358.2C1146.0,360.9 1142.2,360.1 1150.8,362.3C1159.4,364.5 1154.6,364.6 1162.1,364.8C1169.6,365.0 1165.5,364.4 1173.3,362.9C1181.1,361.4 1178.1,362.8 1185.6,360.3C1193.1,357.8 1188.4,359.1 1195.9,355.5C1203.4,351.9 1200.7,353.5 1208.2,349.5C1215.7,345.5 1213.0,347.0 1218.5,343.6C1224.0,340.2 1219.8,342.4 1224.6,339.3C1229.4,336.2 1227.9,337.8 1232.8,334.2C1237.7,330.6 1234.0,332.0 1239.3,328.6C1244.6,325.2 1241.6,327.4 1248.6,323.9C1255.6,320.4 1253.2,321.0 1260.2,318.1C1267.2,315.2 1263.3,317.2 1269.5,315.3C1275.7,313.4 1272.6,312.8 1278.8,312.3C1285.0,311.8 1281.9,314.1 1288.1,313.9C1294.3,313.7 1291.2,313.0 1297.4,311.6C1303.6,310.2 1300.5,312.6 1306.7,309.6C1312.9,306.6 1310.2,307.3 1316.0,302.6C1321.8,297.9 1318.8,302.6 1324.2,295.6C1329.6,288.6 1326.5,291.7 1332.3,281.6C1338.1,271.5 1336.2,275.4 1341.6,265.3C1347.0,255.2 1343.6,262.2 1348.6,251.4C1353.6,240.6 1351.3,244.8 1356.7,232.8C1362.1,220.8 1359.5,226.2 1364.9,215.3C1370.3,204.4 1367.6,208.3 1373.0,200.2C1378.4,192.1 1376.2,195.3 1381.2,190.9C1386.2,186.5 1383.5,188.7 1388.1,187.0C1392.7,185.3 1390.8,185.4 1395.1,185.8C1399.4,186.2 1396.6,184.5 1400.9,188.1C1405.2,191.7 1403.2,190.3 1407.9,196.7C1412.6,203.1 1410.2,201.0 1414.9,207.2C1419.6,213.4 1417.3,211.3 1421.9,215.3C1426.5,219.3 1423.8,218.5 1428.8,219.3C1433.8,220.1 1432.7,218.6 1437.0,217.7C1441.3,216.8 1436.2,218.3 1441.6,216.5C1447.0,214.7 1445.5,215.2 1453.3,212.3C1461.1,209.4 1457.2,211.6 1464.9,207.7C1472.6,203.8 1469.5,204.6 1476.5,200.7C1483.5,196.8 1480.0,199.9 1485.8,196.0C1491.6,192.1 1489.3,192.2 1494.0,189.1C1498.7,186.0 1495.6,186.5 1499.8,186.7C1504.0,186.9 1501.7,186.3 1506.7,189.8C1511.7,193.3 1510.2,191.6 1514.9,197.2C1519.6,202.8 1516.8,198.4 1520.7,206.5C1524.6,214.6 1522.6,210.4 1526.5,221.6C1530.4,232.8 1528.8,227.4 1532.3,240.2C1535.8,253.0 1533.9,246.4 1537.0,260.0C1540.1,273.6 1538.8,267.6 1541.6,280.9C1544.4,294.2 1542.8,286.7 1545.5,300.0C1548.2,313.3 1546.4,306.9 1549.8,320.9C1553.2,334.9 1551.3,328.7 1555.6,341.9C1559.9,355.1 1557.6,349.7 1562.6,360.5C1567.6,371.3 1565.3,367.0 1570.7,374.4C1576.1,381.8 1573.4,377.8 1578.8,382.6C1584.2,387.4 1583.1,386.7 1587.0,388.8C1590.9,390.9 1587.0,387.2 1590.5,388.8C1594.0,390.4 1591.2,390.2 1597.4,393.5C1603.6,396.8 1601.3,394.9 1609.1,398.8C1616.9,402.7 1613.7,400.4 1620.7,405.1C1627.7,409.8 1624.6,409.5 1630.0,412.8C1635.4,416.1 1632.3,412.4 1637.0,415.1C1641.7,417.8 1639.4,417.0 1644.0,420.9C1648.6,424.8 1645.9,424.4 1650.9,426.7C1655.9,429.0 1653.7,426.6 1659.1,427.9C1664.5,429.2 1659.8,428.5 1667.2,430.7C1674.6,432.9 1672.7,433.3 1681.2,434.4C1689.7,435.5 1684.5,434.6 1692.8,434.0C1701.1,433.4 1697.9,432.0 1706.2,432.7C1714.5,433.4 1710.3,433.4 1717.8,436.1C1725.3,438.8 1722.3,438.4 1728.7,440.9C1735.1,443.4 1731.4,441.3 1736.9,443.6C1742.4,445.9 1739.6,445.4 1745.1,447.7C1750.6,450.0 1748.4,448.7 1753.4,450.5C1758.4,452.3 1755.2,451.8 1760.2,453.2C1765.2,454.6 1762.9,454.4 1768.4,454.6C1773.9,454.8 1770.2,454.6 1776.6,453.9C1783.0,453.2 1780.3,453.6 1787.6,452.5C1794.9,451.4 1791.7,451.7 1798.5,450.5C1805.3,449.3 1802.2,449.9 1808.1,448.8C1814.0,447.7 1811.7,447.7 1816.3,447.3C1820.9,446.9 1817.7,446.9 1821.8,447.5C1825.9,448.1 1824.1,447.4 1828.6,449.1C1833.1,450.8 1830.4,450.1 1835.4,452.5C1840.4,454.9 1838.1,454.2 1843.6,456.3C1849.1,458.4 1849.1,457.9 1851.8,458.7" fill="none" stroke="#ed1c24" stroke-width="6.3" stroke-linejoin="round" stroke-linecap="butt" clip-path="url(#cr)"/>
<rect x="72.5" y="24.5" width="62" height="69.5" fill="#fff" stroke="#1a1a1a" stroke-width="0.9"/>
<text x="80" y="75.7" class="t big" style="letter-spacing:-0.8px">Al</text>
<rect x="1034.8" y="27.5" width="87" height="72.8" fill="#fff" stroke="#1a1a1a" stroke-width="0.9"/>
<text x="1046.5" y="81" class="t big">Cu</text>
<text x="805.3" y="226.9" class="t lab">ICP</text>
<text x="820" y="319" class="t lab" style="letter-spacing:-0.7px">RF</text>
<text x="818" y="409.6" class="t lab">ref.</text>
<text x="1774.1" y="424.7" class="t lab">ICP</text>
<text x="1786.5" y="510" class="t lab" style="letter-spacing:-0.7px">RF</text>
<text x="1781" y="576.7" class="t lab">ref.</text>
<text x="1236" y="248" class="t lab">397</text>
<text x="1475" y="69.8" class="t lab">613</text>
<text x="1310" y="128.5" class="t lab">514 (T<tspan class="sub2" dy="14.5">2G</tspan><tspan dy="-14.5">)</tspan></text>
<line x1="1264.7" y1="269.3" x2="1264.7" y2="286.4" stroke="#000" stroke-width="0.8"/><polygon points="1260.7,285.4 1268.7,285.4 1264.7,302.0" fill="#000"/>
<line x1="1392.6" y1="141" x2="1392.6" y2="159.5" stroke="#000" stroke-width="0.8"/><polygon points="1388.6,158.5 1396.6,158.5 1392.6,175.1" fill="#000"/>
<line x1="1507.3" y1="96.7" x2="1507.3" y2="159.5" stroke="#000" stroke-width="0.8"/><polygon points="1503.3,158.5 1511.3,158.5 1507.3,175.1" fill="#000"/>
<text x="313.3" y="720.3" class="t ttl">Raman shift (cm<tspan class="sub" dy="-21" dx="0.8" style="letter-spacing:0.6px">-1</tspan><tspan dy="21">)</tspan></text>
<text x="1277.9" y="720.3" class="t ttl">Raman shift (cm<tspan class="sub" dy="-21" dx="0.8" style="letter-spacing:0.6px">-1</tspan><tspan dy="21">)</tspan></text>
<text transform="translate(30.2,472.7) rotate(-90)" class="t yttl">Intensity (a.u.)</text>
<text transform="translate(994.4,472.7) rotate(-90)" class="t yttl">Intensity (a.u.)</text>
</svg>
</body></html>
